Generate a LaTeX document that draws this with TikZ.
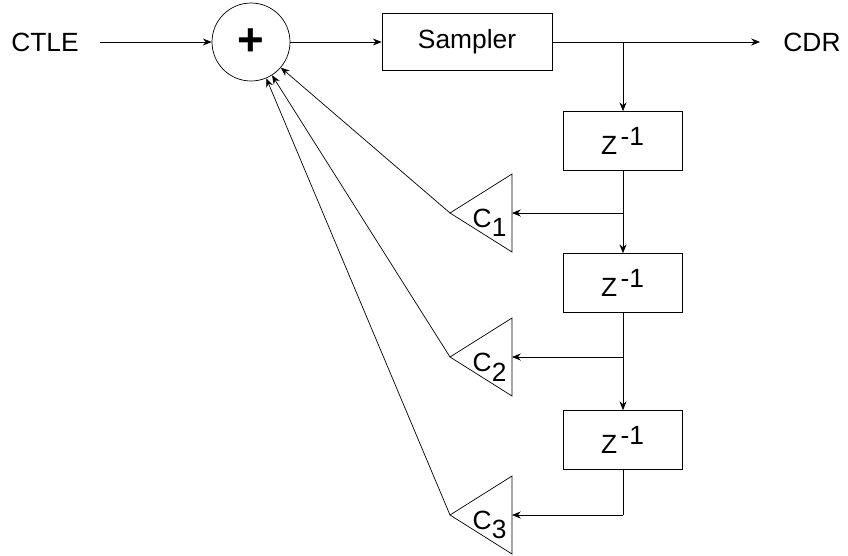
\documentclass[tikz,border=0pt]{standalone}
\usepackage{fontspec}
\setmainfont{Liberation Sans}
\usetikzlibrary{arrows.meta}
\begin{document}
\begin{tikzpicture}[x=0.02cm,y=-0.02cm,>={Stealth[length=5pt,width=4pt]},
  font=\fontsize{15}{18}\selectfont,
  blk/.style={draw, minimum width=3.4cm, minimum height=1.14cm},
  zblk/.style={draw, minimum width=2.38cm, minimum height=1.18cm}]
\useasboundingbox (0,0) rectangle (848,555);

\node (ctle) at (45,42) {CTLE};
\node [circle, draw, minimum size=1.56cm] (sum) at (251,42) {\fontsize{26}{30}\selectfont\bfseries +};
\node [blk] (samp) at (467,42) {Sampler};
\node (cdr) at (812,42) {CDR};
\node [zblk] (z1) at (623,141) {Z$^{\,\textrm{-1}}$};
\node [zblk] (z2) at (623,283) {Z$^{\,\textrm{-1}}$};
\node [zblk] (z3) at (623,440) {Z$^{\,\textrm{-1}}$};

% taps
\foreach \i/\y in {1/213, 2/357, 3/515} {
  \coordinate (t\i) at (450,\y);
  \coordinate (s\i) at (512,\y);
  \draw (t\i) -- (512,\y-39) -- (512,\y+39) -- cycle;
  \node (c\i) at (490,\y+10) {C$_{\textrm{\i}}$};
}
\coordinate (j0) at (623,42);
\coordinate (j1) at (623,213);
\coordinate (j2) at (623,357);
\coordinate (j3) at (623,515);

\draw[->] (ctle.east) ++(15,0) -- (sum);
\draw[->] (sum) -- (samp);
\draw[->] (samp) -- (760,42);
\draw[->] (j0) -- (z1);
\draw (z1) -- (j1);
\draw[->] (j1) -- (z2);
\draw (z2) -- (j2);
\draw[->] (j2) -- (z3);
\draw (z3.south) -- (j3);
\draw[->] (j1) -- (s1);
\draw[->] (j2) -- (s2);
\draw[->] (j3) -- (s3);
\draw[->] (t1) -- (sum);
\draw[->] (t2) -- (sum);
\draw[->] (t3) -- (sum);
\end{tikzpicture}
\end{document}
